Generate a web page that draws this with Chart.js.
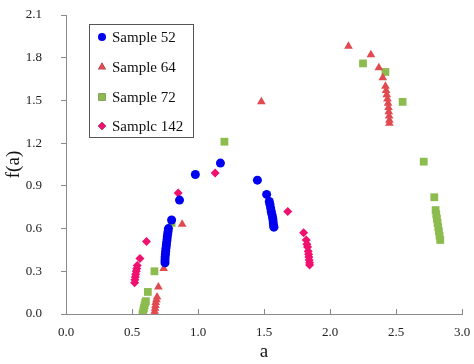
<!DOCTYPE html>
<html>
<head>
<meta charset="utf-8">
<script src="https://cdn.jsdelivr.net/npm/chart.js@4/dist/chart.umd.min.js"></script>
<style>
  html, body { margin: 0; padding: 0; background: #fff; }
  #wrap { width: 474px; height: 364px; }
</style>
</head>
<body>
<div id="wrap"><canvas id="fa"></canvas></div>
<script>
// values: [a, f(a)]
const sample52 = [[0.75,0.36],[0.75,0.38],[0.751,0.40],[0.753,0.42],[0.755,0.44],[0.757,0.46],[0.76,0.48],[0.762,0.50],[0.765,0.52],[0.767,0.54],[0.77,0.56],[0.773,0.58],[0.776,0.60],[0.80,0.66],[0.86,0.80],[0.98,0.98],[1.17,1.06],
  [1.45,0.94],[1.52,0.84],[1.54,0.79],[1.545,0.77],[1.55,0.745],[1.555,0.72],[1.56,0.70],[1.565,0.68],[1.568,0.66],[1.57,0.64],[1.573,0.62],[1.575,0.61]];
const sample64 = [[0.67,0.0],[0.672,0.02],[0.675,0.04],[0.678,0.06],[0.68,0.08],[0.685,0.10],[0.69,0.12],[0.70,0.19],[0.74,0.32],[0.88,0.63],[1.48,1.49],
  [2.14,1.88],[2.31,1.82],[2.37,1.73],[2.40,1.66],[2.42,1.60],[2.425,1.57],[2.43,1.54],[2.435,1.51],[2.44,1.48],[2.443,1.45],[2.445,1.42],[2.448,1.39],[2.45,1.36],[2.45,1.34]];
const sample72 = [[0.58,0.0],[0.585,0.02],[0.59,0.04],[0.595,0.06],[0.60,0.08],[0.605,0.09],[0.62,0.155],[0.67,0.30],[0.80,0.64],[1.20,1.21],
  [2.25,1.76],[2.42,1.70],[2.55,1.49],[2.71,1.07],[2.79,0.82],[2.80,0.73],[2.805,0.70],[2.81,0.67],[2.815,0.64],[2.82,0.61],[2.825,0.58],[2.83,0.55],[2.835,0.52]];
const sample142 = [[0.52,0.22],[0.522,0.24],[0.525,0.26],[0.528,0.28],[0.532,0.30],[0.536,0.32],[0.54,0.34],[0.56,0.39],[0.61,0.51],[0.85,0.85],[1.13,0.99],
  [1.68,0.72],[1.80,0.57],[1.82,0.52],[1.825,0.49],[1.83,0.47],[1.835,0.44],[1.838,0.42],[1.84,0.40],[1.842,0.38],[1.845,0.36],[1.845,0.345]];

const seriesNames = ["Sample 52", "Sample 64", "Sample 72", "Samplc 142"];
const seriesColors = ["#0000f0", "#e04a50", "#8cbb4e", "#f0106e"];
const seriesShapes = ["circle", "triangle", "rect", "rectRot"];
const seriesSizes = [4.5, 5, 5.5, 4.5];
const xTicks = [0, 0.5, 1.0, 1.5, 2.0, 2.5, 3.0];
const yTicks = [0, 0.3, 0.6, 0.9, 1.2, 1.5, 1.8, 2.1];

const allData = [sample52, sample64, sample72, sample142];
const serif = "'Liberation Serif', 'Times New Roman', serif";

// inward ticks on the x axis + boxed legend
const extras = {
  id: 'extras',
  afterDraw(chart) {
    const ctx = chart.ctx;
    const xs = chart.scales.x, area = chart.chartArea;
    ctx.save();
    ctx.strokeStyle = '#8a8a8a';
    ctx.lineWidth = 1;
    xTicks.forEach(v => {
      const px = Math.round(xs.getPixelForValue(v)) + 0.5;
      ctx.beginPath();
      ctx.moveTo(px, area.bottom);
      ctx.lineTo(px, area.bottom - 5);
      ctx.stroke();
    });
    // legend
    ctx.fillStyle = '#fff';
    ctx.fillRect(89, 24, 104, 113);
    ctx.strokeStyle = '#555';
    ctx.strokeRect(89.5, 24.5, 104, 113);
    const rows = [37, 67, 97, 126];
    chart.data.datasets.forEach((ds, i) => {
      Chart.helpers.drawPoint(ctx, {
        pointStyle: ds.pointStyle, radius: ds.pointRadius - 0.5, borderWidth: 0
      }, 102, rows[i]);
      ctx.fillStyle = ds.backgroundColor;
      ctx.fill();
      ctx.fillStyle = '#111';
      ctx.font = '15px ' + serif;
      ctx.textBaseline = 'middle';
      ctx.textAlign = 'left';
      ctx.fillText(ds.label, 112, rows[i] + 1);
    });
    ctx.restore();
  }
};

new Chart(document.getElementById('fa'), {
  type: 'scatter',
  data: {
    datasets: allData.map((d, i) => ({
      label: seriesNames[i],
      data: d.map(p => ({ x: p[0], y: p[1] })),
      pointStyle: seriesShapes[i],
      pointRadius: seriesSizes[i],
      backgroundColor: seriesColors[i],
      borderColor: seriesColors[i],
      borderWidth: 0
    }))
  },
  options: {
    responsive: true,
    maintainAspectRatio: false,
    animation: false,
    layout: { padding: { top: 15, right: 12, left: 0, bottom: 0 } },
    plugins: { legend: { display: false }, tooltip: { enabled: false } },
    scales: {
      x: {
        min: 0, max: 3,
        afterFit: s => { s.height = 50; s.paddingLeft = 0; s.paddingRight = 0; },
        afterBuildTicks: s => { s.ticks = xTicks.map(v => ({ value: v })); },
        grid: { display: false, drawTicks: false },
        border: { color: '#8a8a8a' },
        ticks: { padding: 11, color: '#222', font: { family: serif, size: 13 }, callback: v => Number(v).toFixed(1) },
        title: { display: true, text: 'a', color: '#111', font: { family: serif, size: 19 }, padding: { top: 0, bottom: 1 } }
      },
      y: {
        min: 0, max: 2.1,
        afterFit: s => { s.width = 66; s.paddingTop = 0; s.paddingBottom = 0; },
        afterBuildTicks: s => { s.ticks = yTicks.map(v => ({ value: v })); },
        grid: { drawOnChartArea: false, tickLength: 5, color: '#8a8a8a' },
        border: { color: '#8a8a8a' },
        ticks: { padding: 19, color: '#222', font: { family: serif, size: 13 }, callback: v => Number(v).toFixed(1) },
        title: { display: true, text: 'f(a)', color: '#111', font: { family: serif, size: 19 }, padding: { top: 3, bottom: 0 } }
      }
    }
  },
  plugins: [extras]
});
</script>
</body>
</html>
